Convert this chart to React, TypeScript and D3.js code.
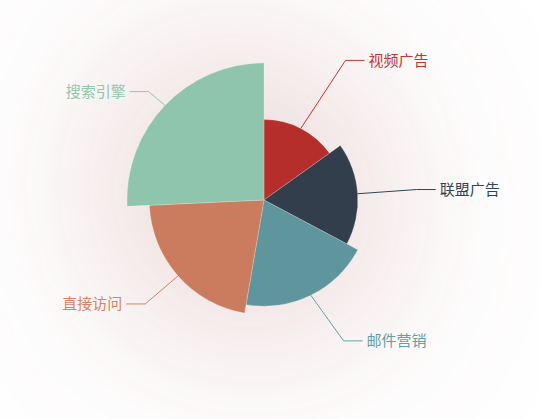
import { useEffect, useRef } from 'react';
import * as d3 from 'd3';

// data
const categories = ['视频广告', '联盟广告', '邮件营销', '直接访问', '搜索引擎'];
const values = [235, 274, 310, 335, 400];
const sliceColors = ['#b52e2b', '#333e4c', '#5f969d', '#cc7c5e', '#90c5ad'];
const labelColors = ['#c23531', '#2f4554', '#61a0a8', '#d48265', '#91c7ae'];

const WIDTH = 540;
const HEIGHT = 419;

interface Slice {
  name: string;
  value: number;
  index: number;
}

export default function App() {
  const svgRef = useRef<SVGSVGElement>(null);

  useEffect(() => {
    document.body.style.margin = '0';
    if (!svgRef.current) return;

    const cx = 264;
    const cy = 200;
    const maxR = 137;
    const labelLen = 20; // first label line segment, past max radius
    const labelLen2 = 19; // horizontal segment
    const ellA = 153;
    const ellB = 165;

    const svg = d3.select(svgRef.current);
    svg.selectAll('*').remove();

    const slices: Slice[] = categories.map((name, i) => ({ name, value: values[i], index: i }));

    const pie = d3.pie<Slice>()
      .sort(null)
      .value(d => d.value)
      .startAngle(0)
      .endAngle(Math.PI * 2);
    const arcs = pie(slices);

    const r = d3.scaleLinear()
      .domain([0, d3.max(values) || 1])
      .range([0, maxR]);

    const arc = d3.arc<d3.PieArcDatum<Slice>>()
      .innerRadius(0)
      .outerRadius(d => r(d.data.value));

    // soft glow behind the rose (blurred shadow)
    const defs = svg.append('defs');
    const filter = defs.append('filter')
      .attr('id', 'glow')
      .attr('filterUnits', 'userSpaceOnUse')
      .attr('x', -cx - 50)
      .attr('y', -cy - 50)
      .attr('width', WIDTH + 100)
      .attr('height', HEIGHT + 100);
    filter.append('feGaussianBlur').attr('stdDeviation', 105);

    svg.append('rect')
      .attr('width', WIDTH)
      .attr('height', HEIGHT)
      .attr('fill', '#ffffff');

    const g = svg.append('g').attr('transform', `translate(${cx},${cy})`);

    g.append('g')
      .attr('filter', 'url(#glow)')
      .selectAll('path')
      .data(arcs)
      .join('path')
      .attr('d', arc)
      .attr('fill', '#b26a6a')
      .attr('fill-opacity', 0.5);

    g.append('g')
      .selectAll('path')
      .data(arcs)
      .join('path')
      .attr('d', arc)
      .attr('fill', d => sliceColors[d.data.index])
      .attr('stroke', 'rgba(255,255,255,0.35)')
      .attr('stroke-width', 0.6);

    // labels
    const labels = arcs.map(d => {
      const mid = (d.startAngle + d.endAngle) / 2;
      const sr = r(d.data.value);
      const sx = Math.sin(mid) * sr;
      const sy = -Math.cos(mid) * sr;
      const ey = -Math.cos(mid) * (maxR + labelLen);
      const dir = Math.sin(mid) >= 0 ? 1 : -1;
      const ex = dir * ellA * Math.sqrt(Math.max(0, 1 - (ey * ey) / (ellB * ellB)));
      const hx = ex + dir * labelLen2;
      return { d, sx, sy, ex, ey, hx, dir };
    });

    const lg = g.append('g');
    lg.selectAll('polyline')
      .data(labels)
      .join('polyline')
      .attr('points', l => `${l.sx},${l.sy} ${l.ex},${l.ey} ${l.hx},${l.ey}`)
      .attr('fill', 'none')
      .attr('stroke', l => labelColors[l.d.data.index])
      .attr('stroke-width', 1);

    lg.selectAll('text')
      .data(labels)
      .join('text')
      .attr('x', l => l.hx + l.dir * 4)
      .attr('y', l => l.ey)
      .attr('dy', '0.35em')
      .attr('text-anchor', l => (l.dir > 0 ? 'start' : 'end'))
      .style('font-family', '"Noto Sans CJK SC", sans-serif')
      .style('font-size', '15px')
      .attr('fill', l => labelColors[l.d.data.index])
      .text(l => l.d.data.name);
  }, []);

  return <svg ref={svgRef} width={WIDTH} height={HEIGHT} style={{ display: 'block' }} />;
}
